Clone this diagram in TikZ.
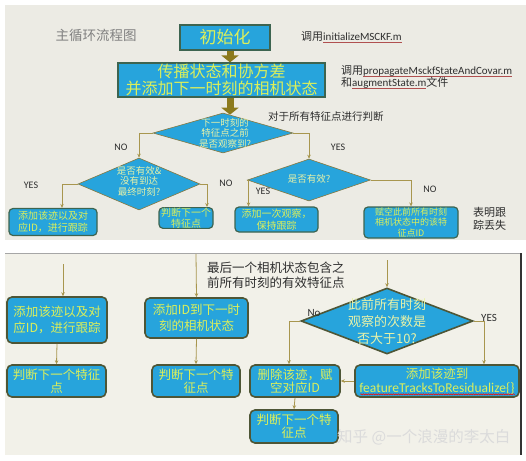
\documentclass[tikz,border=0pt]{standalone}
\usepackage{fontspec}
\setmainfont{Carlito}
\newfontfamily\cjk{Noto Sans CJK SC}
\usetikzlibrary{shapes.geometric,arrows.meta,decorations.pathmorphing,calc}
\definecolor{boxfill}{HTML}{27A4DC}
\definecolor{boxtext}{HTML}{DCEF5A}
\definecolor{dtext}{HTML}{E8F2A8}
\definecolor{boxedge}{HTML}{4E5636}
\definecolor{topedge}{HTML}{3D6450}
\definecolor{conn}{HTML}{A8964E}
\definecolor{blockcol}{HTML}{8C7A1C}
\definecolor{topbg}{HTML}{ECEBE4}
\definecolor{botbg}{HTML}{F2F1E9}
\definecolor{darktext}{HTML}{2E2E2E}
\definecolor{ulcol}{HTML}{B05050}
\newsavebox\ulbox
\newcommand\redline[1]{\leavevmode\sbox\ulbox{#1}\rlap{\textcolor{ulcol}{\rule[-0.45ex]{\wd\ulbox}{0.5pt}}}\usebox\ulbox}
\begin{document}
\begin{tikzpicture}[x=1pt,y=-1pt,
  topsq/.style={draw=topedge, line width=1.2pt, fill=boxfill, text=boxtext, align=center, inner sep=0pt},
  tbox/.style={draw=topedge, line width=1.2pt, rounded corners=4pt, fill=boxfill, text=boxtext, align=center, inner sep=0pt, font=\cjk\fontsize{10}{11.5}\selectfont},
  bbox/.style={draw=boxedge, line width=1.6pt, rounded corners=5pt, fill=boxfill, text=boxtext, align=center, inner sep=0pt, font=\cjk\fontsize{12.5}{16}\selectfont},
  tdia/.style={diamond, draw=conn!80!black, line width=0.6pt, fill=boxfill, inner sep=0pt},
  bdia/.style={diamond, draw=boxedge, line width=1.6pt, fill=boxfill, inner sep=0pt},
  dlabel/.style={text=dtext, align=center, inner sep=0pt, font=\cjk\fontsize{9.5}{10.5}\selectfont},
  anno/.style={text=darktext, inner sep=0pt, align=left},
  yn/.style={text=darktext, inner sep=0pt, font=\fontsize{10}{12}\selectfont},
  conn/.style={draw=conn, line width=0.8pt, -{Stealth[length=4pt,width=3.5pt]}},
  blockarrow/.style={draw=blockcol, line width=7pt, -{Triangle[width=17pt,length=7pt]}}
]
\useasboundingbox (0,0) rectangle (526,460);
% panels
\fill[topbg] (5,5) rectangle (526,240);
\fill[botbg] (5,253) rectangle (521,455);
\draw[gray!70, line width=0.8pt] (5,253) -- (521,253);
\draw[gray!40!black, line width=2pt] (521,253) -- (521,455);

% ---------- top panel ----------
\node[anno, text=gray, font=\cjk\fontsize{13.5}{16}\selectfont] (title) at (96,35) {主循环流程图};
\node[topsq, minimum width=90, minimum height=25, font=\cjk\fontsize{17}{20}\selectfont] (init) at (225,37.5) {初始化};
\node[topsq, minimum width=207, minimum height=34, font=\cjk\fontsize{16}{16.5}\selectfont] (prop) at (221.5,80) {传播状态和协方差\\并添加下一时刻的相机状态};
\node[anno, anchor=west, font=\fontsize{11}{13}\selectfont] (ann1) at (301,37) {{\cjk 调用}\redline{initializeMSCKF.m}};
\node[anno, anchor=west, font=\fontsize{11}{12.5}\selectfont] (ann2) at (341,77) {{\cjk 调用}\redline{propagateMsckfStateAndCovar.m}\\{\cjk 和}\redline{augmentState.m}{\cjk 文件}};

\node[tdia, minimum width=140, minimum height=40] (d1) at (223,133) {};
\node[dlabel] (d1t) at (225,133) {下一时刻的\\特征点之前\\是否观察到?};
\node[anno, anchor=west, font=\cjk\fontsize{10.5}{12}\selectfont] (ann3) at (268,117) {对于所有特征点进行判断};

\coordinate (ax) at (230,0);
\draw[blockarrow] (init.south -| ax) -- (prop.north -| ax);
\draw[blockarrow] (prop.south -| ax) -- ($(d1.north -| ax)+(0,2)$);

\node[tdia, minimum width=122, minimum height=52] (d2) at (139,184) {};
\node[dlabel] (d2t) at (139,181) {是否有效\&\\没有到达\\最终时刻?};
\node[tdia, minimum width=123, minimum height=42] (d3) at (309,180) {};
\node[dlabel] (d3t) at (309,179) {是否有效?};

\node[tbox, minimum width=88, minimum height=27] (ta) at (53,222) {添加该迹以及对\\应ID，进行跟踪};
\node[tbox, minimum width=54, minimum height=20] (tb) at (186,218) {判断下一个\\特征点};
\node[tbox, minimum width=83, minimum height=25] (tc) at (276.5,219.5) {添加一次观察，\\保持跟踪};
\node[tbox, minimum width=94, minimum height=31, font=\cjk\fontsize{9}{10.5}\selectfont] (td) at (411,222.5) {赋空此前所有时刻\\相机状态中的该特\\征点ID};
\node[anno, anchor=west, font=\cjk\fontsize{11}{12.5}\selectfont] (ann4) at (473,219) {表明跟\\踪丢失};

\draw[conn] (d1.west) -| (d2.north);
\draw[conn] (d1.east) -| (d3.north);
\draw[conn] (d2.west) -| ([xshift=9pt]ta.north);
\draw[conn] (d2.east) -| ([xshift=21pt]tb.north);
\draw[conn] (d3.west) -| ([xshift=-28pt]tc.north);
\draw[conn] (d3.east) -| (td.north);

\node[yn] (l1) at (121,147) {NO};
\node[yn] (l2) at (338,147) {YES};
\node[yn] (l3) at (31,185) {YES};
\node[yn] (l4) at (226,183) {NO};
\node[yn] (l5) at (263,191) {YES};
\node[yn] (l6) at (430,189) {NO};

% ---------- bottom panel ----------
\coordinate (s1) at (63,264);
\coordinate (s2) at (196,254);
\coordinate (s3) at (387,260);
\node[anno, anchor=west, font=\cjk\fontsize{12.5}{15}\selectfont] (ann5) at (207,275) {最后一个相机状态包含之\\前所有时刻的有效特征点};

\node[bbox, minimum width=100, minimum height=46] (be) at (57,320) {添加该迹以及对\\应ID，进行跟踪};
\node[bbox, minimum width=103, minimum height=40] (bf) at (196.5,318) {添加ID到下一时\\刻的相机状态};
\node[bdia, minimum width=172, minimum height=66] (d4) at (387,321) {};
\node[dlabel, font=\cjk\fontsize{13}{17}\selectfont] (d4t) at (387,322) {此前所有时刻\\观察的次数是\\否大于10?};

\node[bbox, minimum width=99, minimum height=32, font=\cjk\fontsize{12.5}{13}\selectfont] (bg) at (56.5,381) {判断下一个特征\\点};
\node[bbox, minimum width=88, minimum height=32, font=\cjk\fontsize{12.5}{13}\selectfont] (bh) at (196,381) {判断下一个特\\征点};
\node[bbox, minimum width=90, minimum height=32, font=\cjk\fontsize{12.5}{13}\selectfont] (bi) at (295,381) {删除该迹，赋\\空对应ID};
\node[bbox, minimum width=164, minimum height=32, font=\fontsize{13.5}{14}\selectfont] (bj) at (437,381) {{\cjk\fontsize{12.5}{14}\selectfont 添加该迹到}\\featureTracksToResidualize\{\}};
\node[bbox, minimum width=88, minimum height=33, font=\cjk\fontsize{12.5}{13}\selectfont] (bk) at (294,426.5) {判断下一个特\\征点};
\draw[red, line width=0.5pt, decorate, decoration={snake, amplitude=0.6pt, segment length=2.5pt}]
  ($(bj.south west)+(6,-3.5)$) -- ($(bj.south east)+(-5,-3.5)$);

\node[yn, font=\fontsize{11}{12}\selectfont] (l7) at (314,313) {No};
\node[yn, font=\fontsize{11}{12}\selectfont] (l8) at (489,318) {YES};

\draw[conn] (s1) -- (s1 |- be.north);
\draw[conn] (s2) -- (bf.north);
\draw[conn] (s3) -- (d4.north);
\draw[conn] (be.south) -- (bg.north);
\draw[conn] (bf.south) -- (bh.north);
\draw[conn] (d4.west) -| ([xshift=-6pt]bi.north);
\draw[conn] (d4.east) -| ([xshift=47pt]bj.north);
\draw[conn] (bj.west) -- (bi.east);
\draw[conn] (bi.south) -- (bk.north);

\node[anno, anchor=west, text=white!72!gray, font=\cjk\fontsize{15.5}{17}\selectfont] (wm) at (337,437) {知乎 @一个浪漫的李太白};
\end{tikzpicture}
\end{document}
